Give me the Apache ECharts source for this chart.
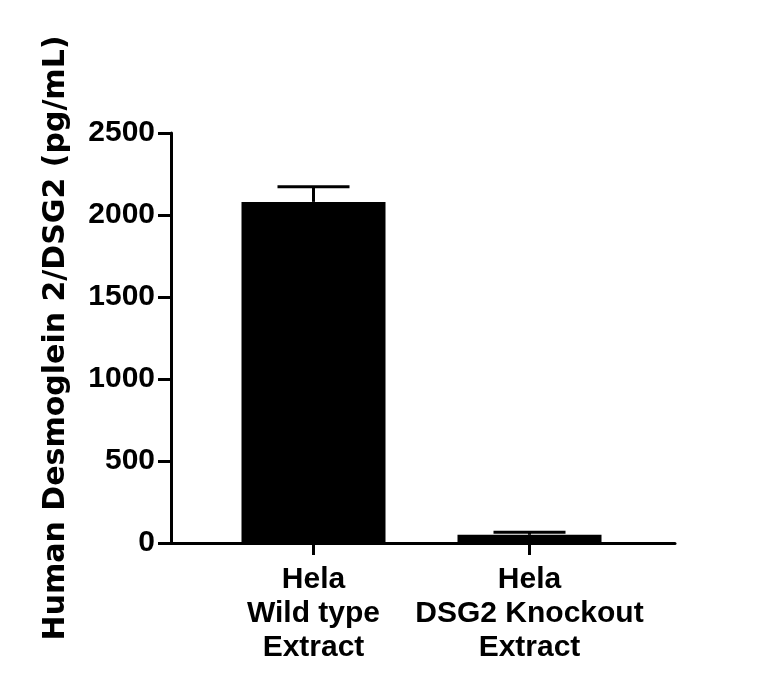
<!DOCTYPE html>
<html>
<head>
<meta charset="utf-8">
<script src="https://cdn.jsdelivr.net/npm/echarts@6/dist/echarts.min.js"></script>
<style>
html,body{margin:0;padding:0;background:#fff;}
#c{width:768px;height:691px;}
</style>
</head>
<body>
<div id="c"></div>
<script>
var categories = ['Hela\nWild type\nExtract', 'Hela\nDSG2 Knockout\nExtract'];
var values = [2080, 50];
var errors = [92, 15];
var yMin = 0, yMax = 2500, yInterval = 500;
var yTitle = 'Human Desmoglein 2/DSG2 (pg/mL)';

var chart = echarts.init(document.getElementById('c'));
var labelFont = {color:'#000', fontFamily:'Liberation Sans, Arial, sans-serif', fontWeight:'bold', fontSize:30};
chart.setOption({
  animation:false,
  backgroundColor:'#fff',
  grid:[
    {left:171, top:133, right:93, bottom:148},
    {left:205.5, top:133, right:130.5, bottom:148}
  ],
  xAxis:[
    {gridIndex:0, type:'value', min:0, max:1, axisLine:{show:true, lineStyle:{color:'#000', width:3}}, axisTick:{show:false}, axisLabel:{show:false}, splitLine:{show:false}},
    {gridIndex:1, type:'category', data:categories, axisLine:{show:false}, axisTick:{show:true, alignWithLabel:true, length:12, lineStyle:{color:'#000', width:3}},
     axisLabel:Object.assign({margin:20, lineHeight:34, interval:0}, labelFont), splitLine:{show:false}}
  ],
  yAxis:[
    {gridIndex:0, type:'value', min:yMin, max:yMax, interval:yInterval,
     axisLine:{show:true, lineStyle:{color:'#000', width:3}},
     axisTick:{show:true, length:13, lineStyle:{color:'#000', width:3}},
     axisLabel:Object.assign({margin:16, formatter:function(v){return String(v);}}, labelFont),
     splitLine:{show:false},
     name:yTitle, nameLocation:'middle', nameGap:100, nameRotate:90,
     nameTextStyle:{color:'#000', fontFamily:'DejaVu Sans, sans-serif', fontWeight:'bold', fontSize:30}
    },
    {gridIndex:1, type:'value', min:yMin, max:yMax, interval:yInterval, show:false}
  ],
  series:[
    {type:'bar', xAxisIndex:1, yAxisIndex:1, data:values, barWidth:144, itemStyle:{color:'#000'}},
    {type:'custom', xAxisIndex:1, yAxisIndex:1, z:1,
     data:values.map(function(v,i){return [i, v, errors[i]];}),
     renderItem:function(params, api){
       var x = api.value(0), v = api.value(1), e = api.value(2);
       var p0 = api.coord([x, v]);
       var p1 = api.coord([x, v+e]);
       var hw = 36;
       return {type:'group', children:[
         {type:'line', shape:{x1:p0[0], y1:p0[1], x2:p1[0], y2:p1[1]}, style:{stroke:'#000', lineWidth:3}},
         {type:'line', shape:{x1:p1[0]-hw, y1:p1[1], x2:p1[0]+hw, y2:p1[1]}, style:{stroke:'#000', lineWidth:3}}
       ]};
     }
    }
  ]
});
</script>
</body>
</html>
